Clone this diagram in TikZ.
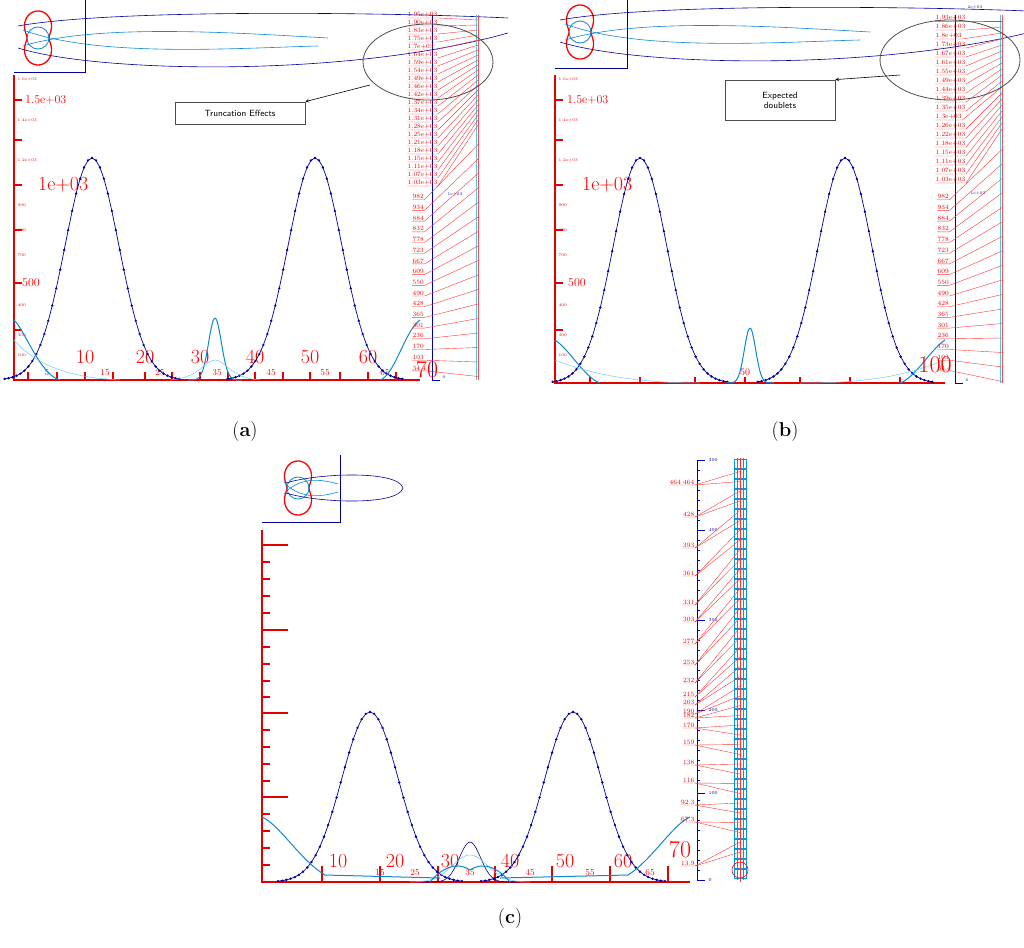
\documentclass[tikz,border=0pt]{standalone}
\usepackage{tikz}
\begin{document}
\begin{tikzpicture}[x=1pt,y=-1pt,
 ax/.style={red!90!black,line width=2pt},
 tk/.style={red!90!black,line width=1.2pt},
 rl/.style={red!80,line width=0.4pt},
 lab/.style={red!90!black,font=\fontsize{6.5}{6.5}\selectfont,inner sep=0.5pt},
 big/.style={red,font=\fontsize{20}{20}\selectfont,inner sep=0pt},
 mid/.style={red,font=\fontsize{12}{12}\selectfont,inner sep=0pt},
 pk/.style={blue!60!black,line width=0.7pt,mark=*,mark size=0.8pt,mark options={blue!60!black}},
 bl/.style={cyan!70!blue,line width=1pt},
 captxt/.style={font=\fontsize{20}{20}\selectfont}]
\useasboundingbox (0,0) rectangle (1024,947);
\newcommand\gp[5]{\draw[pk] plot[domain=#1-2.3*#3:#1+2.3*#3,samples=#5] (\x,{#4-#2*exp(-((\x-#1)/#3)^2)});}
\newcommand\bump[4]{\draw[bl] plot[domain=#1-3*#3:#1+3*#3,samples=40] (\x,{#4-#2*exp(-((\x-#1)/#3)^2)});}
\newcommand\peanut{%
 \draw[red,line width=1.3pt] plot[domain=0:360,samples=80,smooth] ({(19-8*cos(2*\x))*cos(\x)},{(19-8*cos(2*\x))*sin(\x)});
 \draw[cyan!70!blue,line width=0.8pt] (0,0) circle (11);}
\newcommand\inset[3]{% x y length
 \begin{scope}[shift={(#1,#2)}]
 \peanut
 \draw[blue!60!black,line width=0.6pt] (-20,-12) .. controls (80,-30) and (#3-100,-25) .. (#3,-20);
 \draw[blue!60!black,line width=0.6pt] (-20,10) .. controls (60,35) and (#3-160,40) .. (#3,-5);
 \draw[cyan!70!blue,line width=0.6pt] (-15,8) .. controls (60,-15) and (200,-5) .. (#3-180,0);
 \draw[cyan!70!blue,line width=0.6pt] (-15,-8) .. controls (60,20) and (200,10) .. (#3-190,8);
 \end{scope}}
% ================= (a)
\inset{38}{38}{470}
\draw[blue!60!black,line width=0.6pt] (14,72) -- (85,72) -- (85,0);
\draw[ax] (14,75) -- (14,380) -- (420,380);
\foreach \y in {100,140,185,230,283,330} \draw[tk] (14,\y) -- (22,\y);
\foreach \x in {28,57,85,113,145,172,200,228,255,283,310,340,368,396} \draw[tk] (\x,380) -- (\x,372);
\foreach \x/\t in {85/10,145/20,200/30,255/40,310/50,368/60} \node[big,anchor=south] at (\x,364) {\t};
\foreach \x/\t in {47/5,105/15,160/25,217/35,271/45,325/55,385/65} \node[mid,font=\fontsize{9}{9}\selectfont,anchor=south] at (\x,376) {\t};
\node[mid,anchor=west] at (25,100) {1.5e+03};
\node[big,anchor=west] at (38,185) {1e+03};
\node[mid,font=\fontsize{12}{12}\selectfont,anchor=west] at (22,283) {500};
\foreach \y/\t in {80/1.6e+03,120/1.4e+03,160/1.2e+03,205/900,230/800,255/700,305/400,335/300,355/100} \node[lab,font=\fontsize{4}{4}\selectfont,anchor=west] at (17,\y) {\t};
\gp{92}{222}{38}{380}{45}
\gp{315}{222}{38}{380}{45}
\bump{215}{62}{9}{380}
\draw[bl] (14,320) .. controls (25,330) and (40,375) .. (60,380);
\draw[bl] (420,320) .. controls (405,330) and (395,375) .. (380,380);
\draw[cyan!60,line width=0.5pt] (14,340) .. controls (40,370) and (80,378) .. (120,380);
\draw[cyan!60,line width=0.5pt] (170,380) .. controls (200,378) and (205,360) .. (215,360) .. controls (225,360) and (230,378) .. (260,380);
\node[big,font=\fontsize{24}{24}\selectfont] at (427,370) {70};
\draw[blue!70!black,line width=0.6pt] (432,15) -- (432,380) -- (440,380);
\node[blue!70!black,font=\fontsize{4}{4}\selectfont] at (444,377) {0};
\node[blue!70!black,font=\fontsize{4}{4}\selectfont] at (455,194) {1e+03};
\draw[red!70,line width=1pt] (478,15) -- (478,380);
\draw[cyan!70,line width=0.5pt] (476,15) -- (476,380);
\foreach \t [count=\i] in {1.95e+03,1.90e+03,1.83e+03,1.75e+03,1.7e+03,1.64e+03,1.59e+03,1.54e+03,1.49e+03,1.46e+03,1.42e+03,1.37e+03,1.34e+03,1.31e+03,1.28e+03,1.25e+03,1.21e+03,1.18e+03,1.15e+03,1.11e+03,1.07e+03,1.03e+03}{
 \node[lab,anchor=south west] (la\i) at (407,{10+8*\i}) {\t};
 \coordinate (ca\i) at (478,{15+5*\i});
 \draw[rl] (la\i.south west) -- (la\i.south east) -- (ca\i);}
\foreach \t [count=\i] in {982,934,884,832,778,723,667,609,550,490,428,365,301,236,170,103,34.4}{
 \node[lab,anchor=south west] (lb\i) at (412,{189+10.7*\i}) {\t};
 \coordinate (cb\i) at (478,{130+14.5*\i});
 \draw[rl] (lb\i.south west) -- (lb\i.south east) -- (cb\i);}
\draw[gray!60!black,line width=0.8pt] (428,62) ellipse (65 and 38);
\node[draw,gray!60!black,line width=0.8pt,minimum width=130pt,minimum height=22pt,text=black,font=\fontsize{9}{9}\selectfont\sffamily] (ta) at (240,113) {Truncation Effects};
\draw[->,>=stealth,black,line width=0.6pt] (370,85) -- (ta.north east);
\node[captxt] at (245,432) {(\textbf{a})};
% ================= (b)
\inset{580}{32}{470}
\draw[blue!60!black,line width=0.6pt] (555,68) -- (627,68) -- (627,0);
\draw[ax] (555,75) -- (555,383) -- (945,383);
\foreach \y in {100,140,185,230,283,330} \draw[tk] (555,\y) -- (563,\y);
\foreach \x in {590,640,695,745,800,850,900} \draw[tk] (\x,383) -- (\x,377);
\node[mid,anchor=west] at (567,100) {1.5e+03};
\node[big,anchor=west] at (582,185) {1e+03};
\node[mid,anchor=west] at (568,283) {500};
\foreach \y/\t in {80/1.6e+03,120/1.4e+03,160/1.2e+03,205/900,230/800,255/700,305/400,335/300,355/100} \node[lab,font=\fontsize{4}{4}\selectfont,anchor=west] at (558,\y) {\t};
\gp{640}{225}{38}{383}{45}
\gp{845}{225}{38}{383}{45}
\bump{750}{55}{8}{383}
\draw[bl] (555,340) .. controls (570,350) and (585,378) .. (600,383);
\draw[bl] (945,340) .. controls (930,350) and (915,378) .. (900,383);
\draw[cyan!60,line width=0.5pt] (555,360) .. controls (600,378) and (650,383) .. (700,383);
\draw[cyan!60,line width=0.5pt] (800,383) .. controls (860,383) and (900,378) .. (945,360);
\node[mid,font=\fontsize{10}{10}\selectfont,anchor=south] at (745,376) {50};
\node[big,font=\fontsize{24}{24}\selectfont] at (935,365) {100};
\draw[blue!70!black,line width=0.6pt] (955,15) -- (955,383) -- (963,383);
\node[blue!70!black,font=\fontsize{4}{4}\selectfont] at (967,380) {0};
\node[blue!70!black,font=\fontsize{4}{4}\selectfont] at (978,193) {1e+03};
\node[blue!70!black,font=\fontsize{4}{4}\selectfont] at (975,8) {2e+03};
\draw[red!70,line width=1pt] (1002,15) -- (1002,383);
\draw[cyan!70,line width=0.5pt] (1000,15) -- (1000,383);
\foreach \t [count=\i] in {1.93e+03,1.86e+03,1.8e+03,1.73e+03,1.67e+03,1.61e+03,1.55e+03,1.49e+03,1.44e+03,1.39e+03,1.35e+03,1.3e+03,1.26e+03,1.22e+03,1.18e+03,1.15e+03,1.11e+03,1.07e+03,1.03e+03}{
 \node[lab,anchor=south west] (ma\i) at (935,{12+9*\i}) {\t};
 \coordinate (da\i) at (1002,{15+6*\i});
 \draw[rl] (ma\i.south west) -- (ma\i.south east) -- (da\i);}
\foreach \t [count=\i] in {982,934,884,832,778,723,667,609,550,490,428,365,301,236,170,103,34.4}{
 \node[lab,anchor=south west] (mb\i) at (937,{189+10.7*\i}) {\t};
 \coordinate (db\i) at (1002,{135+14.5*\i});
 \draw[rl] (mb\i.south west) -- (mb\i.south east) -- (db\i);}
\draw[gray!60!black,line width=0.8pt] (950,60) ellipse (70 and 40);
\node[draw,gray!60!black,line width=0.8pt,minimum width=110pt,minimum height=40pt,text=black,align=center,font=\fontsize{9}{10}\selectfont\sffamily] (tb) at (780,100) {Expected\\doublets};
\draw[->,>=stealth,black,line width=0.6pt] (900,75) -- (tb.north east);
\node[captxt] at (785,432) {(\textbf{b})};
% ================= (c)
\begin{scope}[shift={(298,488)}]
 \peanut
 \draw[blue!60!black,line width=0.6pt] (-12,-5) .. controls (20,-15) and (100,-18) .. (105,0) .. controls (100,18) and (20,15) .. (-12,5);
 \draw[cyan!70!blue,line width=0.6pt] (-14,6) .. controls (0,-10) and (20,-10) .. (40,-4);
 \draw[cyan!70!blue,line width=0.6pt] (-14,-6) .. controls (0,10) and (20,10) .. (40,4);
\end{scope}
\draw[blue!60!black,line width=0.6pt] (262,522) -- (340,522) -- (340,455);
\draw[ax] (262,530) -- (262,882) -- (690,882);
\foreach \y in {545,630,713,797} \draw[tk] (262,\y) -- (288,\y);
\foreach \y in {562,579,596,613,647,664,681,697,730,747,764,781,814,831,848,865} \draw[tk] (262,\y) -- (270,\y);
\foreach \x in {322,380,438,495,552,610,668} \draw[tk] (\x,882) -- (\x,866);
\foreach \x/\t in {338/10,395/20,450/30,510/40,565/50,623/60} \node[big,anchor=south] at (\x,868) {\t};
\node[big,font=\fontsize{24}{24}\selectfont] at (680,850) {70};
\foreach \x/\t in {380/15,415/25,470/35,530/45,590/55,650/65} \node[mid,font=\fontsize{9}{9}\selectfont,anchor=south] at (\x,876) {\t};
\gp{370}{170}{40}{882}{45}
\gp{573}{170}{40}{882}{45}
\draw[blue!60!black,line width=0.6pt] plot[domain=420:520,samples=40] (\x,{882-40*exp(-((\x-470)/15)^2)});
\draw[cyan!60,line width=0.5pt] plot[domain=410:530,samples=40] (\x,{882-27*exp(-((\x-470)/25)^2)});
\draw[bl] (262,817) .. controls (280,825) and (300,860) .. (325,875) -- (440,878);
\draw[bl] (690,817) .. controls (672,825) and (652,860) .. (628,875) -- (500,878);
\draw[bl] (430,882) .. controls (440,870) and (455,860) .. (470,870);
\draw[bl] (510,882) .. controls (500,870) and (485,860) .. (470,870);
\draw[blue!70!black,line width=0.6pt] (697,460) -- (697,880) -- (705,880);
\foreach \y/\t in {460/300,530/400,620/300,710/200,793/100,880/0} {\draw[blue!70!black,line width=0.6pt] (697,\y) -- (705,\y); \node[blue!70!black,font=\fontsize{4.5}{4.5}\selectfont,anchor=west] at (705,\y) {\t};}
\foreach \y in {470,480,490,500,510,520,540,550,560,570,580,590,600,610,630,640,650,660,670,680,690,700,720,730,740,750,760,770,780,800,810,820,830,840,850,860,870} \draw[blue!70!black,line width=0.4pt] (697,\y) -- (700,\y);
\foreach \i in {0,...,41} \draw[cyan!80!blue,line width=0.5pt] (734,{459+10*\i}) rectangle (746,{468+10*\i});
\draw[cyan!80!blue,line width=0.5pt] (737,458) -- (737,880) (743,458) -- (743,880);
\draw[red!80,line width=0.6pt] (740,458) -- (740,882);
\draw[red,line width=0.6pt] (740,870) circle (8);
\foreach \y/\t [count=\i] in {485/464 464,517/428,548/393,576/361,605/331,622/303,644/277,665/253,683/232,697/215,705/203,714/190,718/182,728/170,745/159,765/138,783/116,805/92.3,822/67.3,866/13.9}{
 \node[lab,anchor=south east] (lc\i) at (695,\y) {\t};
 \draw[rl] (lc\i.south west) -- (lc\i.south east) -- (740,{462+19.5*\i});
 \draw[rl] (lc\i.south east) -- (740,{452+19.5*\i});}
\node[captxt] at (510,918) {(\textbf{c})};
\end{tikzpicture}
\end{document}
